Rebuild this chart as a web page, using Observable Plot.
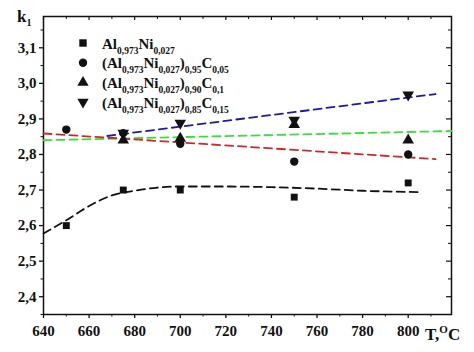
<!DOCTYPE html>
<html><head><meta charset="utf-8">
<script src="https://cdn.jsdelivr.net/npm/d3@7"></script>
<script src="https://cdn.jsdelivr.net/npm/@observablehq/plot@0.6"></script>
<style>body{margin:0;background:#fff} svg text{font-weight:bold}</style>
</head><body><div id="chart"></div>
<script>
// ---- data ----
const temps = [650, 675, 700, 750, 800];
const kAlNi = [2.60, 2.70, 2.70, 2.68, 2.72];
const kC005 = [2.87, 2.86, 2.83, 2.78, 2.80];
const tempsC = [675, 700, 750, 800];
const kC01 = [2.84, 2.845, 2.884, 2.84];
const kC015 = [2.86, 2.888, 2.897, 2.968];

const fitBlackT = [640, 650, 660, 670, 680, 690, 700, 720, 740, 760, 780, 806];
const fitBlackK = [2.578, 2.615, 2.655, 2.685, 2.698, 2.707, 2.71, 2.71, 2.708, 2.704, 2.698, 2.694];
const fitBlueT = [668, 812], fitBlueK = [2.852, 2.970];
const fitGreenT = [640, 819], fitGreenK = [2.840, 2.866];
const fitRedT = [640, 812], fitRedK = [2.859, 2.787];

const yTicks = [2.4, 2.5, 2.6, 2.7, 2.8, 2.9, 3.0, 3.1];
const yMinor = [2.35, 2.45, 2.55, 2.65, 2.75, 2.85, 2.95, 3.05, 3.15];
const xTicks = [640, 660, 680, 700, 720, 740, 760, 780, 800];
const xMinor = [650, 670, 690, 710, 730, 750, 770, 790, 810];

const W = 474, H = 352;
const M = {top: 16, right: 23, bottom: 38, left: 43};
const innerW = W - M.left - M.right, innerH = H - M.top - M.bottom;

const font = "'Liberation Serif', 'Times New Roman', serif";
const pts = (xs, ys) => xs.map((x, i) => ({x, y: ys[i]}));
const fmt = d => d.toFixed(1).replace(".", ",");
const dash = {strokeDasharray: "8,5", strokeWidth: 1.8};
const tfont = {fontFamily: font, fontWeight: "bold", fontSize: 15};

const plot = Plot.plot({
  width: W, height: H,
  marginTop: M.top, marginRight: M.right, marginBottom: M.bottom, marginLeft: M.left,
  style: {fontFamily: font, fontSize: "15px", fontWeight: "bold", background: "#fff", color: "#111"},
  x: {domain: [640, 819]},
  y: {domain: [2.35, 3.188]},
  marks: [
    Plot.axisY({anchor: "left", ticks: yTicks, tickFormat: fmt, tickSize: 4, tickPadding: 3, label: null, strokeWidth: 1.3, ...tfont}),
    Plot.axisY({anchor: "left", ticks: yMinor, tickSize: 2.5, text: null, label: null}),
    Plot.axisX({anchor: "bottom", ticks: xTicks, tickFormat: d => String(d), tickSize: 4, tickPadding: 7, label: null, strokeWidth: 1.3, ...tfont}),
    Plot.axisX({anchor: "bottom", ticks: xMinor, tickSize: 2.5, text: null, label: null}),
    Plot.tickX(xTicks, {x: d => d, insetBottom: innerH - 4, stroke: "#111", strokeWidth: 1.2}),
    Plot.tickX(xMinor, {x: d => d, insetBottom: innerH - 3, stroke: "#111"}),
    Plot.tickY(yTicks, {y: d => d, insetLeft: innerW - 5, stroke: "#111", strokeWidth: 1.2}),
    Plot.tickY(yMinor, {y: d => d, insetLeft: innerW - 3, stroke: "#111"}),
    Plot.frame({stroke: "#111", strokeWidth: 1.5}),
    Plot.line(pts(fitBlackT, fitBlackK), {x: "x", y: "y", stroke: "#111", curve: "monotone-x", ...dash}),
    Plot.line(pts(fitBlueT, fitBlueK), {x: "x", y: "y", stroke: "#1a1aa6", ...dash}),
    Plot.line(pts(fitGreenT, fitGreenK), {x: "x", y: "y", stroke: "#3ddc3d", ...dash}),
    Plot.line(pts(fitRedT, fitRedK), {x: "x", y: "y", stroke: "#cc2a2a", ...dash}),
    Plot.dot(pts(temps, kAlNi), {x: "x", y: "y", symbol: "square", r: 3.9, fill: "#111"}),
    Plot.dot(pts(temps, kC005), {x: "x", y: "y", symbol: "circle", r: 4.2, fill: "#111"}),
    Plot.dot(pts(tempsC, kC01), {x: "x", y: "y", symbol: "triangle", r: 4.3, fill: "#111"}),
    Plot.dot(pts(tempsC, kC015), {x: "x", y: "y", symbol: "triangle", r: 4.3, fill: "#111", rotate: 180})
  ]
});
document.getElementById("chart").appendChild(plot);

// ---- legend and axis titles (real SVG text with sub/superscripts) ----
const svg = d3.select(plot);
svg.selectAll("text").attr("font-weight", "bold").attr("font-family", font);
const legend = [
  {sym: d3.symbolSquare, rot: 0, parts: [["Al"], ["0,973", 1], ["Ni"], ["0,027", 1]]},
  {sym: d3.symbolCircle, rot: 0, parts: [["(Al"], ["0,973", 1], ["Ni"], ["0,027", 1], [")"], ["0,95", 1], ["C"], ["0,05", 1]]},
  {sym: d3.symbolTriangle, rot: 0, parts: [["(Al"], ["0,973", 1], ["Ni"], ["0,027", 1], [")"], ["0,90", 1], ["C"], ["0,1", 1]]},
  {sym: d3.symbolTriangle, rot: 180, parts: [["(Al"], ["0,973", 1], ["Ni"], ["0,027", 1], [")"], ["0,85", 1], ["C"], ["0,15", 1]]}
];
const lg = svg.append("g").attr("font-family", font).attr("font-weight", "bold").attr("fill", "#111").attr("text-anchor", "start");
legend.forEach((row, i) => {
  const cy = 43 + i * 19.7;
  lg.append("path").attr("d", d3.symbol(row.sym, 55)()).attr("transform", `translate(83,${cy}) rotate(${row.rot})`);
  const t = lg.append("text").attr("x", 102).attr("y", cy + 5.5).attr("font-size", 15).attr("text-anchor", "start");
  let sub = false;
  row.parts.forEach(([s, isSub]) => {
    const ts = t.append("tspan").text(s);
    if (isSub && !sub) { ts.attr("dy", 5).attr("font-size", 9.5); sub = true; }
    else if (isSub) { ts.attr("font-size", 9.5); }
    else if (sub) { ts.attr("dy", -5); sub = false; }
  });
});

const yl = svg.append("text").attr("x", 17).attr("y", 22).attr("text-anchor", "start").attr("font-family", font).attr("font-weight", "bold").attr("font-size", 17).attr("fill", "#111");
yl.append("tspan").text("k");
yl.append("tspan").attr("dy", 4).attr("font-size", 10).text("1");

const xl = svg.append("text").attr("x", 425).attr("y", 340).attr("text-anchor", "start").attr("font-family", font).attr("font-weight", "bold").attr("font-size", 17).attr("fill", "#111");
xl.append("tspan").text("T,");
xl.append("tspan").attr("dy", -7).attr("font-size", 11).text("O");
xl.append("tspan").attr("dy", 7).text("C");
</script>
</body></html>
